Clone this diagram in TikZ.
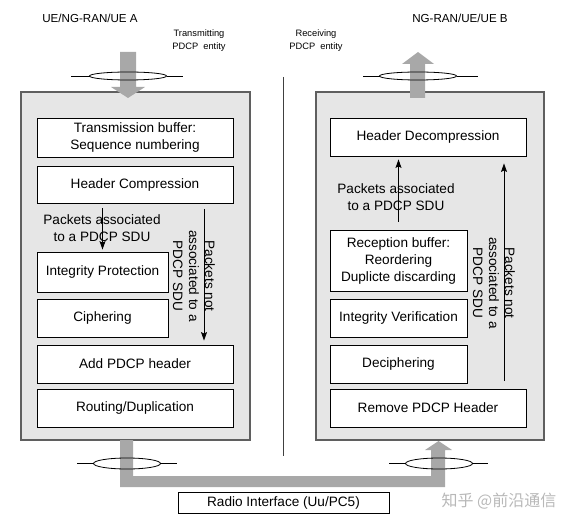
\documentclass[tikz,border=0pt]{standalone}
\usepackage{fontspec}
\setmainfont{Liberation Sans}
\newfontfamily\cjkfont{Noto Sans CJK SC}
\usetikzlibrary{arrows.meta}
\tikzset{>={Stealth[length=8.5pt,width=6pt,inset=1.5pt]}}
\definecolor{boxgray}{RGB}{230,230,230}
\definecolor{framegray}{RGB}{95,95,95}
\definecolor{pipegray}{RGB}{168,168,168}

\begin{document}
\begin{tikzpicture}[x=1pt, y=-1pt,
    block/.style={draw, fill=white, line width=0.9pt, inner sep=0pt, align=center,
      font=\fontsize{13.6}{17}\selectfont},
    entity/.style={draw=framegray, fill=boxgray, line width=1.3pt, inner sep=0pt},
    note/.style={align=center, inner sep=0pt, font=\fontsize{13.6}{17}\selectfont},
    small/.style={align=center, inner sep=0pt, font=\fontsize{9.3}{13}\selectfont}]
  \useasboundingbox (0,0) rectangle (577,526);
  % titles
  \node[inner sep=0pt, font=\fontsize{11.6}{14}\selectfont] (ueA) at (90,18) {UE/NG-RAN/UE A};
  \node[inner sep=0pt, font=\fontsize{11.6}{14}\selectfont] (ueB) at (460,18) {NG-RAN/UE/UE B};
  \node[small] (txlab) at (199,41) {Transmitting\\PDCP~~entity};
  \node[small] (rxlab) at (316,41) {Receiving\\PDCP~~entity};
  % separator
  \draw[line width=0.9pt, black!75] (283,77) -- (283,456);
  % entities
  \node[entity, minimum width=229pt, minimum height=348pt] (tx) at (135.5,266) {};
  \node[entity, minimum width=228pt, minimum height=348pt] (rx) at (430,266) {};
  % transmitting side
  \node[block, minimum width=196pt, minimum height=39pt] (tb) at (135,137.5) {Transmission buffer:\\Sequence numbering};
  \node[block, minimum width=196pt, minimum height=37pt] (hc) at (135,184.5) {Header Compression};
  \node[block, minimum width=131pt, minimum height=40pt] (ip) at (102.5,272) {Integrity Protection};
  \node[block, minimum width=131pt, minimum height=38pt] (ciph) at (102.5,318) {Ciphering};
  \node[block, minimum width=196pt, minimum height=38pt] (aph) at (135,364) {Add PDCP header};
  \node[block, minimum width=196pt, minimum height=38pt] (rd) at (135,408) {Routing/Duplication};
  % receiving side
  \node[block, minimum width=196pt, minimum height=38pt] (hd) at (428,137) {Header Decompression};
  \node[block, minimum width=137pt, minimum height=61pt] (rb) at (398.5,260.5) {Reception buffer:\\Reordering\\Duplicte discarding};
  \node[block, minimum width=137pt, minimum height=38pt] (iv) at (398.5,318) {Integrity Verification};
  \node[block, minimum width=137pt, minimum height=38pt] (dec) at (398.5,364) {Deciphering};
  \node[block, minimum width=196pt, minimum height=38pt] (rph) at (428,408) {Remove PDCP Header};
  % packet paths
  \node[note] (pa) at (102,228.5) {Packets associated\\to a PDCP SDU};
  \node[note, rotate=-90, font=\fontsize{13.6}{16}\selectfont] (pn) at (194,276) {Packets not\\associated to a\\PDCP SDU};
  \node[note] (pb) at (396,197.5) {Packets associated\\to a PDCP SDU};
  \node[note, rotate=-90, font=\fontsize{13.6}{16}\selectfont] (pm) at (494,283) {Packets not\\associated to a\\PDCP SDU};
  \coordinate (nl) at (204,209);
  \coordinate (nr) at (504,381);
  \draw[->, line width=0.8pt] ([yshift=-5pt]hc.south -| ip.north) -- ([yshift=2pt]ip.north);
  \draw[->, line width=0.8pt] (nl) -- ([yshift=4pt]nl |- aph.north);
  \draw[->, line width=0.8pt] ([yshift=8pt]rb.north) -- ([yshift=-3pt]rb.north |- hd.south);
  \draw[->, line width=0.8pt] (nr) -- ([yshift=-7pt]nr |- hd.south);
  % big arrows
  \fill[pipegray] (120,52) -- (136,52) -- (136,87) -- (145,87) -- (128,98) -- (111,87) -- (120,87) -- cycle;
  \fill[pipegray] (410,98) -- (425,98) -- (425,64) -- (434,64) -- (418,52) -- (402,64) -- (410,64) -- cycle;
  \fill[pipegray] (120,440) -- (133,440) -- (133,476) -- (431,476) -- (431,450) -- (425,450) -- (438.5,441)
    -- (452,450) -- (445,450) -- (445,487) -- (120,487) -- cycle;
  % bearers
  \draw[line width=0.8pt] (71,76) -- (89.5,76) (166.5,76) -- (183,76);
  \draw[line width=0.8pt] (128,76) ellipse [x radius=38.5pt, y radius=4pt];
  \draw[line width=0.8pt] (363,76) -- (379.5,76) (456.5,76) -- (478,76);
  \draw[line width=0.8pt] (418,76) ellipse [x radius=38.5pt, y radius=4pt];
  \draw[line width=0.8pt] (77,463.5) -- (93.5,463.5) (160.5,463.5) -- (177,463.5);
  \draw[line width=0.8pt] (127,463.5) ellipse [x radius=33.5pt, y radius=5.5pt];
  \draw[line width=0.8pt] (389,463.5) -- (405.5,463.5) (472.5,463.5) -- (488,463.5);
  \draw[line width=0.8pt] (439,463.5) ellipse [x radius=33.5pt, y radius=5.5pt];
  % radio interface
  \node[block, minimum width=211pt, minimum height=21pt] (radio) at (283.5,502.5) {Radio Interface (Uu/PC5)};
  \node[inner sep=0pt, text=black!28, font=\cjkfont\fontsize{16}{16}\selectfont] (wm) at (499,501) {知乎 @前沿通信};
\end{tikzpicture}
\end{document}
